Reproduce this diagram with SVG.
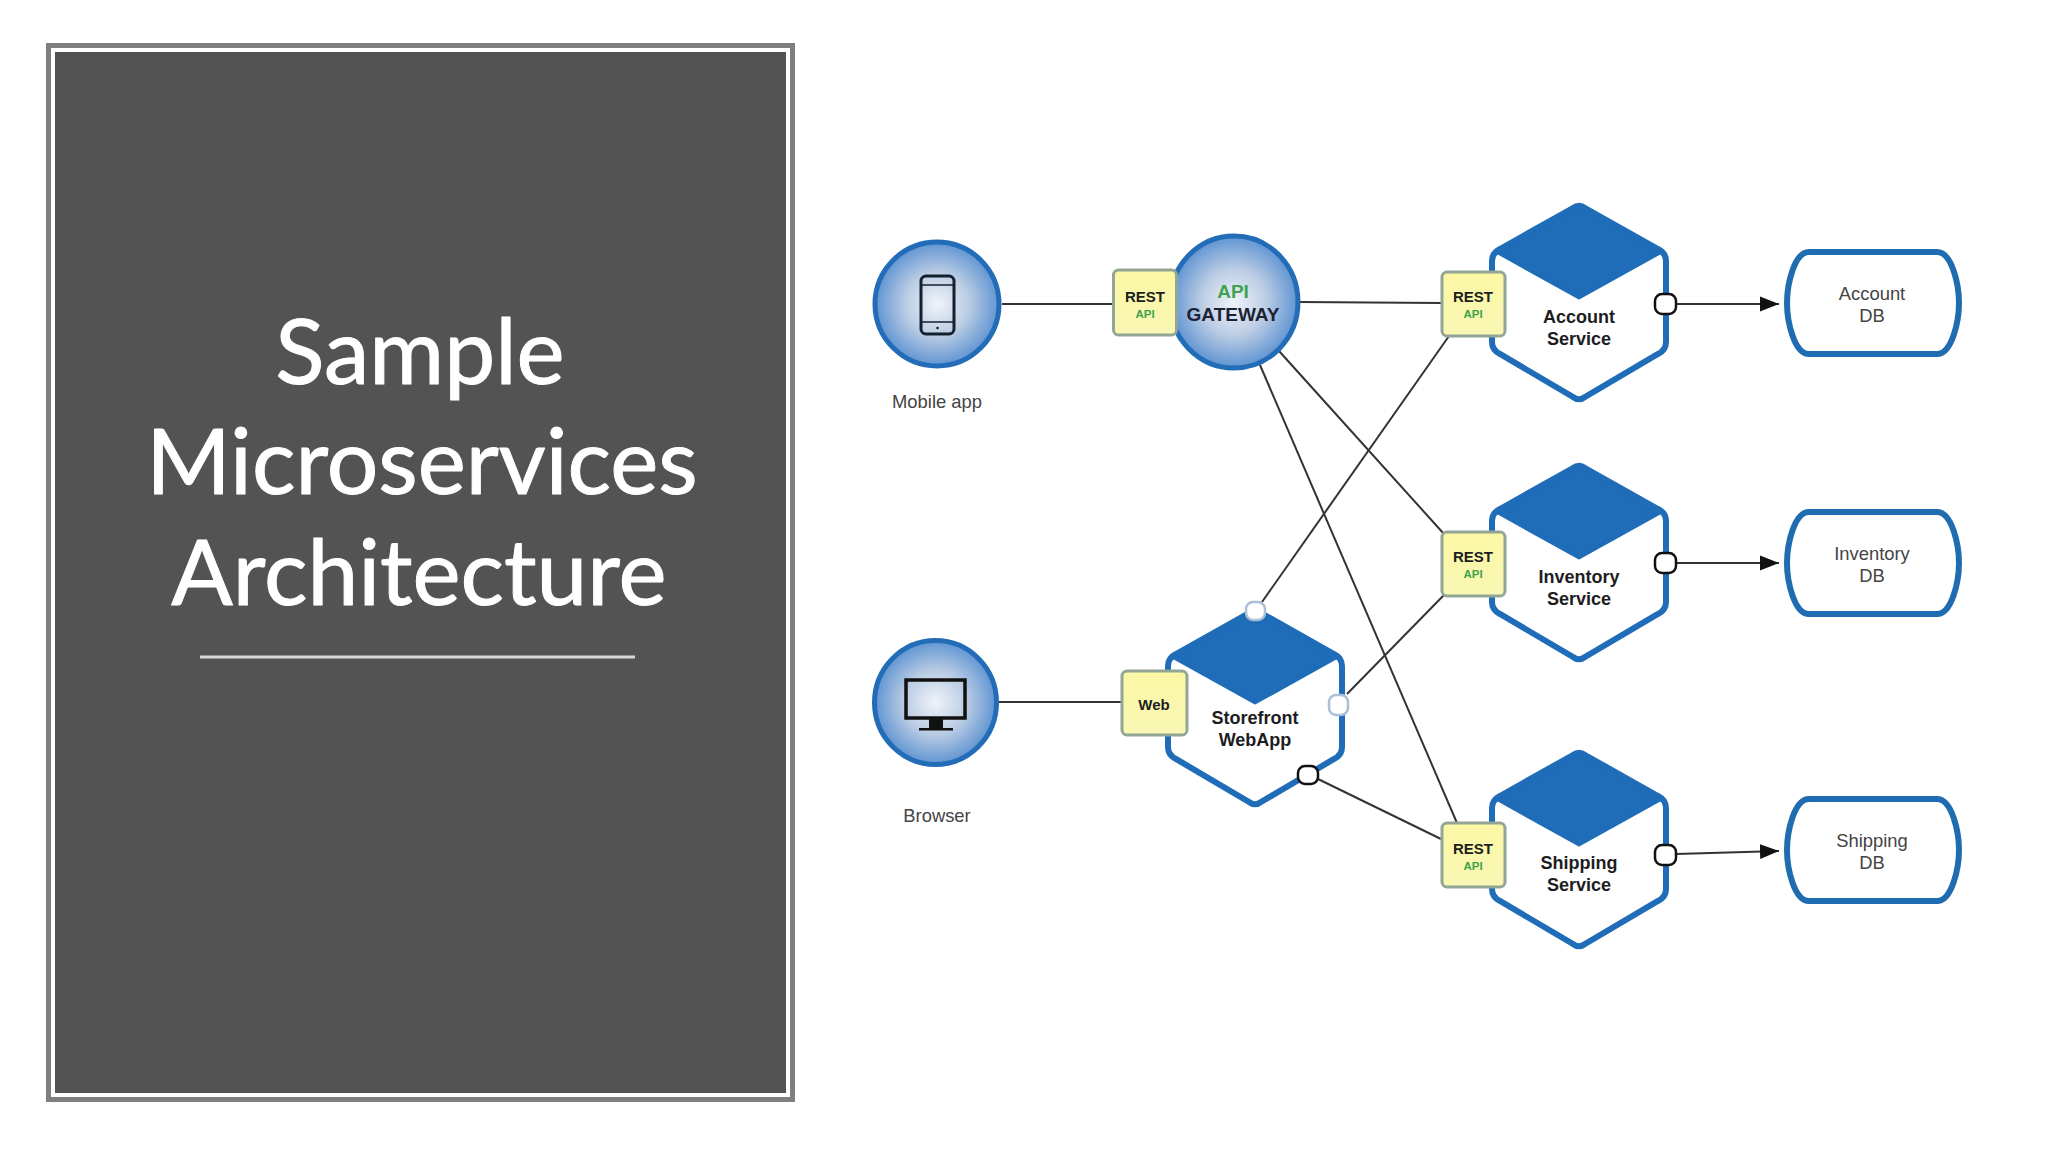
<svg xmlns="http://www.w3.org/2000/svg" width="2048" height="1152" viewBox="0 0 2048 1152">
<defs>
<radialGradient id="orb" cx="0.5" cy="0.5" r="0.5"><stop offset="0" stop-color="#f0f3fa"/><stop offset="0.5" stop-color="#bccde4"/><stop offset="1" stop-color="#5f94d2"/></radialGradient>
<linearGradient id="tab" x1="0" y1="0" x2="0" y2="1"><stop offset="0" stop-color="#fbf7a4"/><stop offset="1" stop-color="#f8f7b4"/></linearGradient>
<marker id="arrow" markerUnits="userSpaceOnUse" markerWidth="20" markerHeight="16" refX="19" refY="8" orient="auto"><path d="M0,0.500 L19,8 L0,15.500 Z" fill="#111"/></marker>
<path id="hex" d="M85,5 Q91,0.500 97,5 L170,46 Q178,50 178,58 V139 Q178,147 170,151 L97,194 Q91,198.500 85,194 L12,151 Q4,147 4,139 V58 Q4,50 12,46 Z" fill="#fff" stroke="#1f6cb8" stroke-width="6"/>
<path id="dia" d="M91,3 L172,50 L91,95 L10,50 Z" fill="#1f6cb8" stroke="#1f6cb8" stroke-width="3" stroke-linejoin="round"/>
<path id="db" d="M25,3 H153 C168,3 175,36 175,54 C175,72 168,105 153,105 H25 C10,105 3,72 3,54 C3,36 10,3 25,3 Z" fill="#fff" stroke="#1f6cb0" stroke-width="6"/>
</defs>
<style>
text{font-family:"Liberation Sans",Arial,sans-serif;text-anchor:middle}
.title{font-family:Lato,"Open Sans",sans-serif;font-size:91px;fill:#fff;stroke:#fff;stroke-width:1;stroke-linejoin:round}
.b{font-weight:700;font-size:18px;fill:#1d1d1f}
.r{font-size:18.400px;fill:#444}
.tabbox{fill:url(#tab);stroke:#93a595;stroke-width:3}
.orb{fill:url(#orb);stroke:#236db8;stroke-width:5}
.rest{font-weight:700;font-size:15px;fill:#1d1d1f}
.api{font-weight:700;font-size:11.500px;fill:#3fa34d}
.port{fill:#fff;stroke:#111;stroke-width:2.500}
.lport{fill:#fff;stroke:#a9c0d6;stroke-width:2.500}
.lnk{stroke:#333;stroke-width:2;fill:none}
.dk{fill:#111}
</style>
<rect width="2048" height="1152" fill="#fff"/>
<g id="title-panel">
<rect x="48.500" y="45.500" width="744" height="1054" fill="none" stroke="#7f7f7f" stroke-width="5"/>
<rect x="55" y="52" width="731" height="1041" fill="#535353"/>
<text class="title" x="420" y="384">Sample</text>
<text class="title" x="422" y="494">Microservices</text>
<text class="title" x="419" y="605">Architecture</text>
<rect x="200" y="655.500" width="435" height="3" fill="#d9d9d9"/>
</g>
<g id="connectors">
<line class="lnk" x1="1002" y1="304" x2="1113" y2="304"/>
<line class="lnk" x1="1299" y1="302" x2="1441" y2="303"/>
<line class="lnk" x1="1279" y1="351" x2="1444" y2="534"/>
<line class="lnk" x1="1260" y1="365" x2="1457" y2="823"/>
<line class="lnk" x1="1449" y1="336" x2="1262" y2="602"/>
<line class="lnk" x1="1347" y1="694" x2="1444" y2="595"/>
<line class="lnk" x1="1318" y1="779" x2="1441" y2="839"/>
<line class="lnk" x1="999" y1="702" x2="1121" y2="702"/>
<line class="lnk" x1="1676" y1="304" x2="1779" y2="304" marker-end="url(#arrow)"/>
<line class="lnk" x1="1676" y1="563" x2="1779" y2="563" marker-end="url(#arrow)"/>
<line class="lnk" x1="1676" y1="854" x2="1779" y2="851" marker-end="url(#arrow)"/>
</g>
<g id="mobile-app">
<circle class="orb" cx="937" cy="304" r="62"/>
<rect x="921" y="276" width="33" height="58" rx="5" fill="none" stroke="#15202e" stroke-width="3"/>
<path d="M921,285 H954 M921,322 H954" stroke="#15202e" stroke-width="1.500"/>
<circle cx="937.500" cy="328" r="1.300" fill="#15202e"/>
<text class="r" x="937" y="408">Mobile app</text>
</g>
<g id="api-gateway">
<ellipse class="orb" cx="1234" cy="302" rx="64" ry="66"/>
<rect class="tabbox" x="1113.500" y="270" width="63" height="65" rx="5"/>
<text class="rest" x="1145" y="302">REST</text>
<text class="api" x="1145" y="318">API</text>
<text x="1233" y="298" font-weight="700" font-size="19" fill="#3fa34d">API</text>
<text x="1233" y="321" font-weight="700" font-size="19" fill="#1c2233">GATEWAY</text>
</g>
<g id="browser">
<ellipse class="orb" cx="935.500" cy="702.500" rx="61" ry="62"/>
<rect x="906" y="680" width="59" height="38" fill="none" stroke="#111" stroke-width="3.500"/>
<rect x="929" y="719" width="14" height="9" class="dk"/>
<rect x="919" y="728" width="34" height="2.500" class="dk"/>
<text class="r" x="937" y="822">Browser</text>
</g>
<g id="storefront-webapp">
<use href="#hex" transform="translate(1164,608)"/>
<use href="#dia" transform="translate(1164,608)"/>
<rect class="tabbox" x="1122" y="671" width="65" height="64" rx="5"/>
<text class="b" x="1154" y="710" style="font-size:15px">Web</text>
<text class="b" x="1255" y="724">Storefront</text>
<text class="b" x="1255" y="746">WebApp</text>
<rect class="lport" x="1246" y="602" width="19" height="18" rx="7"/>
<rect class="lport" x="1329" y="695" width="19" height="20" rx="7"/>
<rect class="port" x="1298" y="766" width="20" height="18" rx="7"/>
</g>
<g id="account-service">
<use href="#hex" transform="translate(1488,203)"/>
<use href="#dia" transform="translate(1488,203)"/>
<rect class="tabbox" x="1442" y="272" width="63" height="64" rx="5"/>
<text class="rest" x="1473" y="302">REST</text>
<text class="api" x="1473" y="318">API</text>
<text class="b" x="1579" y="323">Account</text>
<text class="b" x="1579" y="345">Service</text>
<rect class="port" x="1655" y="294" width="21" height="20" rx="7"/>
</g>
<g id="inventory-service">
<use href="#hex" transform="translate(1488,463)"/>
<use href="#dia" transform="translate(1488,463)"/>
<rect class="tabbox" x="1442" y="532" width="63" height="64" rx="5"/>
<text class="rest" x="1473" y="562">REST</text>
<text class="api" x="1473" y="578">API</text>
<text class="b" x="1579" y="583">Inventory</text>
<text class="b" x="1579" y="605">Service</text>
<rect class="port" x="1655" y="553" width="21" height="20" rx="7"/>
</g>
<g id="shipping-service">
<use href="#hex" transform="translate(1488,750)"/>
<use href="#dia" transform="translate(1488,750)"/>
<rect class="tabbox" x="1442" y="823" width="63" height="64" rx="5"/>
<text class="rest" x="1473" y="854">REST</text>
<text class="api" x="1473" y="870">API</text>
<text class="b" x="1579" y="869">Shipping</text>
<text class="b" x="1579" y="891">Service</text>
<rect class="port" x="1655" y="845" width="21" height="20" rx="7"/>
</g>
<g id="account-db">
<use href="#db" transform="translate(1784,249)"/>
<text class="r" x="1872" y="300">Account</text>
<text class="r" x="1872" y="322">DB</text>
</g>
<g id="inventory-db">
<use href="#db" transform="translate(1784,509)"/>
<text class="r" x="1872" y="560">Inventory</text>
<text class="r" x="1872" y="582">DB</text>
</g>
<g id="shipping-db">
<use href="#db" transform="translate(1784,796)"/>
<text class="r" x="1872" y="847">Shipping</text>
<text class="r" x="1872" y="869">DB</text>
</g>
</svg>
